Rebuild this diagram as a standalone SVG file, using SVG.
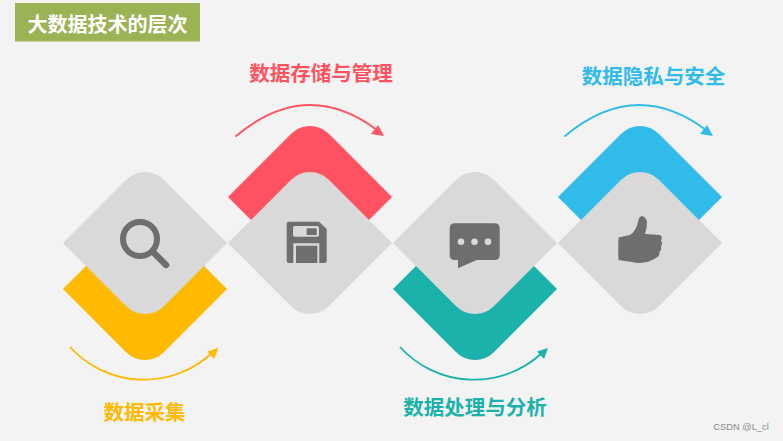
<svg xmlns="http://www.w3.org/2000/svg" width="783" height="441" viewBox="0 0 783 441">
<style>
.t{font-family:"Noto Sans CJK SC","Liberation Sans",sans-serif;font-weight:700;text-anchor:middle}
.g{fill:#d9d9d9}
.i{fill:#6e6e6e}
</style>
<defs>
<path id="d" d="M-82 0L-18.800 -63.200A26.500 26.500 0 0 1 18.800 -63.200L82 0L18.800 63.200A26.500 26.500 0 0 1 -18.800 63.200Z"/>
</defs>
<rect width="783" height="441" fill="#f3f3f3"/>
<g id="title"><rect x="15" y="3" width="185" height="38.500" fill="#9bb355"/><text class="t" x="107.500" y="32" font-size="20" fill="#fff">大数据技术的层次</text></g>
<g id="node-collect">
<use href="#d" x="145" y="289" fill="#ffb900"/><use href="#d" x="145" y="243" class="g"/>
<circle cx="140" cy="239" r="17" fill="none" stroke="#6e6e6e" stroke-width="6"/>
<path d="M153 252L166 265" stroke="#6e6e6e" stroke-width="6.500" stroke-linecap="round"/>
<text class="t" x="144.500" y="420" font-size="20.500" fill="#ffb900">数据采集</text>
</g>
<g id="node-store">
<use href="#d" x="310" y="197" fill="#ff5362"/><use href="#d" x="310" y="243" class="g"/>
<path class="i" fill-rule="evenodd" d="M289 221.700H319L326.700 229V260.500Q326.700 263 324 263H289Q286.700 263 286.700 260.500V224Q286.700 221.700 289 221.700ZM295 226Q293 226 293 228V235Q293 236.700 295 236.700H317Q319 236.700 319 235V228Q319 226 317 226ZM293.300 243.300V263H296V245.700H317.300V263H319.300V243.300Z"/>
<rect class="i" x="306.700" y="228.300" width="10" height="6.700"/>
<text class="t" x="321" y="81" font-size="20.500" fill="#ff5362">数据存储与管理</text>
</g>
<g id="node-analyze">
<use href="#d" x="475" y="289" fill="#1ab2aa"/><use href="#d" x="475" y="243" class="g"/>
<path class="i" d="M455 223.300H494.700Q499.700 223.300 499.700 228.300V255Q499.700 260 494.700 260H476.700L458 268.300V260H454.700Q449.700 260 449.700 255V228.300Q449.700 223.300 454.700 223.300Z"/>
<g fill="#d9d9d9"><circle cx="461" cy="241.700" r="3.300"/><circle cx="474.500" cy="241.700" r="3.300"/><circle cx="488" cy="241.700" r="3.300"/></g>
<text class="t" x="475" y="415" font-size="20.500" fill="#1ab2aa">数据处理与分析</text>
</g>
<g id="node-secure">
<use href="#d" x="640" y="197" fill="#30bbe8"/><use href="#d" x="640" y="243" class="g"/>
<path class="i" d="M618.500 237.500L630 235Q636 231 638 222Q639 216 642 216Q646 217 647 222Q647 228 645 234L660 235Q663 237 661 240.500Q663 243 661 246.500Q662 249.500 659.500 252Q660 256 656 258Q645 265 632 262L618.500 260Q618 250 618.500 237.500Z"/>
<text class="t" x="653.500" y="84" font-size="20.500" fill="#30bbe8">数据隐私与安全</text>
</g>
<g id="connectors" fill="none" stroke-width="1.800">
<path d="M70 347A100 100 0 0 0 212 353" stroke="#ffb900"/><path d="M218.300 347.700L207.300 351.700L214.300 359Z" fill="#ffb900"/>
<path d="M235.500 136.500Q306 77 377 130" stroke="#ff5362"/><path d="M384 136L371 134L378 125Z" fill="#ff5362"/>
<path d="M400 347A100 100 0 0 0 542 353" stroke="#1ab2aa"/><path d="M548 348L537 351.500L544 359Z" fill="#1ab2aa"/>
<path d="M564.500 136.500Q635 77 706 130" stroke="#30bbe8"/><path d="M713 136L700 134L707 125Z" fill="#30bbe8"/>
</g>
<text x="741" y="430" font-family="Liberation Sans,sans-serif" font-size="9.300" text-anchor="middle" fill="#8a8a8a">CSDN @L_cl</text>
</svg>
